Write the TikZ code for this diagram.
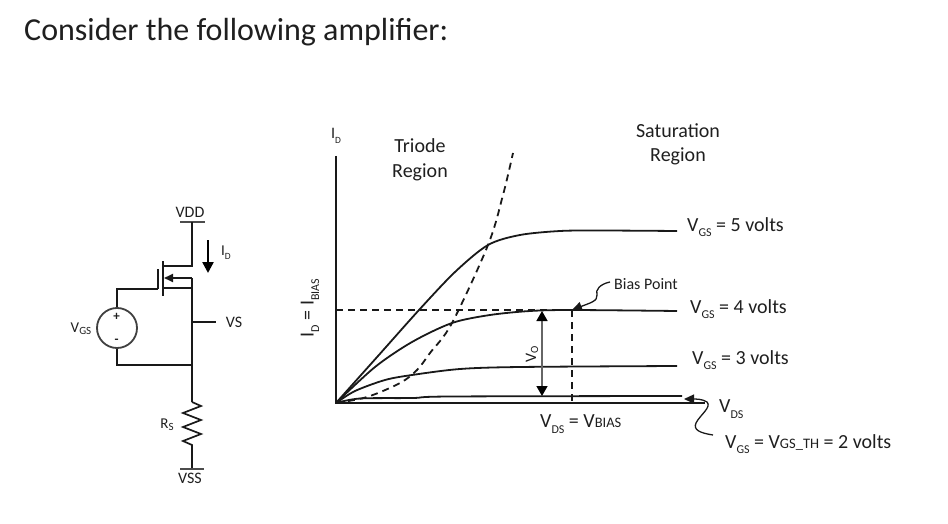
\documentclass[tikz,border=0pt]{standalone}
\usepackage{fontspec}
\setmainfont{Carlito}
\usetikzlibrary{arrows.meta}
\newcommand{\fsz}[1]{\fontsize{#1}{#1}\selectfont}
\newcommand{\lowtxt}[1]{\raisebox{-0.28em}{\fontsize{12}{12}\selectfont #1}}
\newcommand{\lowtiny}[1]{\raisebox{-0.28em}{\fontsize{9.5}{9.5}\selectfont #1}}
\newcommand{\lowcir}[1]{\raisebox{-0.12em}{\fontsize{11}{11}\selectfont #1}}
\newcommand{\smalltxt}[1]{{\fontsize{14.5}{14.5}\selectfont #1}}
\tikzset{
  wire/.style={line width=1.7pt,black!90},
  curve/.style={line width=1.8pt,black!90},
  dashline/.style={line width=1.8pt,black!90,dash pattern=on 7pt off 5pt},
  thin wire/.style={line width=1.3pt,black!90},
  lbl/.style={inner sep=0pt,text=black!88},
  big/.style={lbl,font=\fsz{20}},
  mid/.style={lbl,font=\fsz{16}},
  cir/.style={lbl,font=\fsz{16}}
}
\begin{document}
\begin{tikzpicture}[x=1pt,y=-1pt]
\useasboundingbox (0,0) rectangle (948,524);
\node[lbl,anchor=west,font=\fsz{32}] (title) at (24,32.5) {Consider the following amplifier:};

% circuit
\coordinate (vddL) at (180,222); \coordinate (vddR) at (205,222);
\coordinate (vddN) at (192,222); \coordinate (dr) at (192,266);
\coordinate (chD) at (163,266); \coordinate (chT) at (163,261); \coordinate (chB) at (163,296);
\coordinate (gT) at (158,269); \coordinate (gB) at (158,289);
\coordinate (gwL) at (117,289);
\coordinate (chS) at (163,288); \coordinate (sN) at (192,288);
\coordinate (arR) at (192,278); \coordinate (arL) at (164,278);
\coordinate (vsN) at (192,322); \coordinate (vsE) at (216,322);
\coordinate (jn) at (192,365); \coordinate (jnL) at (117,365);
\coordinate (rT) at (192,402); \coordinate (rB) at (192,445);
\coordinate (vssN) at (192,469); \coordinate (vssL) at (180,469); \coordinate (vssR) at (204,469);
\coordinate (idT) at (208,240); \coordinate (idB) at (208,273);
\node[circle,draw=black!75,line width=1.8pt,minimum size=40pt,inner sep=0pt] (src) at (117,328) {};
\draw[wire,black!70] (vddL) -- (vddR);
\draw[wire] (vddN) -- (dr) -- (chD);
\draw[wire] (chT) -- (chB);
\draw[wire] (gT) -- (gB);
\draw[wire] (src.north) -- (gwL) -- (gB);
\draw[wire] (chS) -- (sN);
\draw[wire,-{Stealth[length=9pt,width=8pt,inset=0pt]}] (arR) -- (arL);
\draw[wire] (arR) -- (rT);
\draw[thin wire] (vsN) -- (vsE);
\draw[wire] (src.south) -- (jnL) -- (jn);
\draw[wire] (rT) -- ++(9,4) -- ++(-18,7) -- ++(18,7) -- ++(-18,7) -- ++(18,7) -- ++(-18,7) -- (rB) -- (vssN);
\draw[wire,black!70] (vssL) -- (vssR);
\draw[line width=2.4pt,-{Stealth[length=11pt,width=11pt,inset=0pt]}] (idT) -- (idB);
\node[cir] (vdd) at (190,212) {VDD};
\node[cir] (vss) at (190,478) {VSS};
\node[cir] (vs) at (234,322) {VS};
\node[cir,font=\fsz{15}] (id1) at (226,253) {I\lowtiny{D}};
\node[cir,font=\fsz{15}] (vgs1) at (81,329) {V\lowcir{GS}};
\node[cir,font=\fsz{15}] (rs) at (167,425) {R\lowcir{S}};
\node[lbl,font=\bfseries\fsz{13}] (plus) at (116.5,317) {+};
\node[lbl,font=\bfseries\fsz{13}] (minus) at (116.5,341) {-};

% graph
\coordinate (o) at (336,403); \coordinate (yTop) at (336,156); \coordinate (xEnd) at (705,403);
\coordinate (biasL) at (336,310); \coordinate (bias) at (572,310); \coordinate (biasB) at (572,403);
\coordinate (voT) at (542,311); \coordinate (voB) at (542,396);
\draw[line width=1.9pt,black!90] (yTop) -- (o) -- (xEnd);
\draw[curve] plot[smooth,tension=0.5] coordinates {(o) (378,356) (419,310) (455,272) (488,245) (520,235) (560,231) (600,230.5) (677,231)};
\draw[curve] plot[smooth,tension=0.5] coordinates {(o) (375,367) (412,342) (452,323) (490,315) (530,311) (572,310) (677,311)};
\draw[curve] plot[smooth,tension=0.5] coordinates {(o) (355,391) (385,380) (412,375) (460,369) (520,367) (677,366)};
\draw[curve] plot[smooth,tension=0.5] coordinates {(o) (360,398.5) (413,398) (450,396.5) (682,396)};
\draw[dashline] plot[smooth,tension=0.55] coordinates {(o) (367,397) (400,383) (417,370) (430,353) (452,323) (488,245) (503,195) (513,153)};
\draw[dashline] (biasL) -- (bias);
\draw[dashline] (bias) -- (biasB);
\draw[line width=1.4pt,black!60,{Stealth[length=10pt,width=11pt,inset=0pt,black]}-{Stealth[length=10pt,width=11pt,inset=0pt,black]}] (voT) -- (voB);

\node[cir] (idTop) at (336,136) {I\lowtiny{D}};
\node[big] (tri) at (420,146) {Triode};
\node[big] (trir) at (420,172) {Region};
\node[big] (sat) at (678,131) {Saturation};
\node[big] (satr) at (678,156) {Region};
\node[big,rotate=90] (ibias) at (310,308) {I\lowtxt{D} = I\lowtxt{BIAS}};
\node[mid,rotate=90] (vo) at (532,354) {V\lowcir{O}};
\node[mid] (bp) at (646,284) {Bias Point};
\node[big,anchor=west] (g5) at (687,227) {V\lowtxt{GS} = 5 volts};
\node[big,anchor=west] (g4) at (690,309) {V\lowtxt{GS} = 4 volts};
\node[big,anchor=west] (g3) at (692,360) {V\lowtxt{GS} = 3 volts};
\node[big,anchor=west] (vds) at (719,409) {V\lowtxt{DS}};
\node[big,anchor=west] (gth) at (725,444) {V\lowtxt{GS} = V\smalltxt{GS\_TH} = 2 volts};
\node[big,anchor=west] (vdsb) at (540,424) {V\lowtxt{DS} = V\smalltxt{BIAS}};

\coordinate (bpS) at (610,282);
\draw[thin wire,-{Stealth[length=10pt,width=9pt,inset=0pt]}] (bpS) .. controls (600,284) and (595,290) .. (597,295) .. controls (598,301) and (590,303) .. (bias);
\coordinate (gthS) at (713,435);
\draw[thin wire,-{Stealth[length=10pt,width=9pt,inset=0pt]}] (gthS) .. controls (700,433) and (693,430) .. (696,423) .. controls (700,415) and (712,407) .. (707,402) .. controls (703,399) and (695,399) .. (684,399);
\end{tikzpicture}
\end{document}
